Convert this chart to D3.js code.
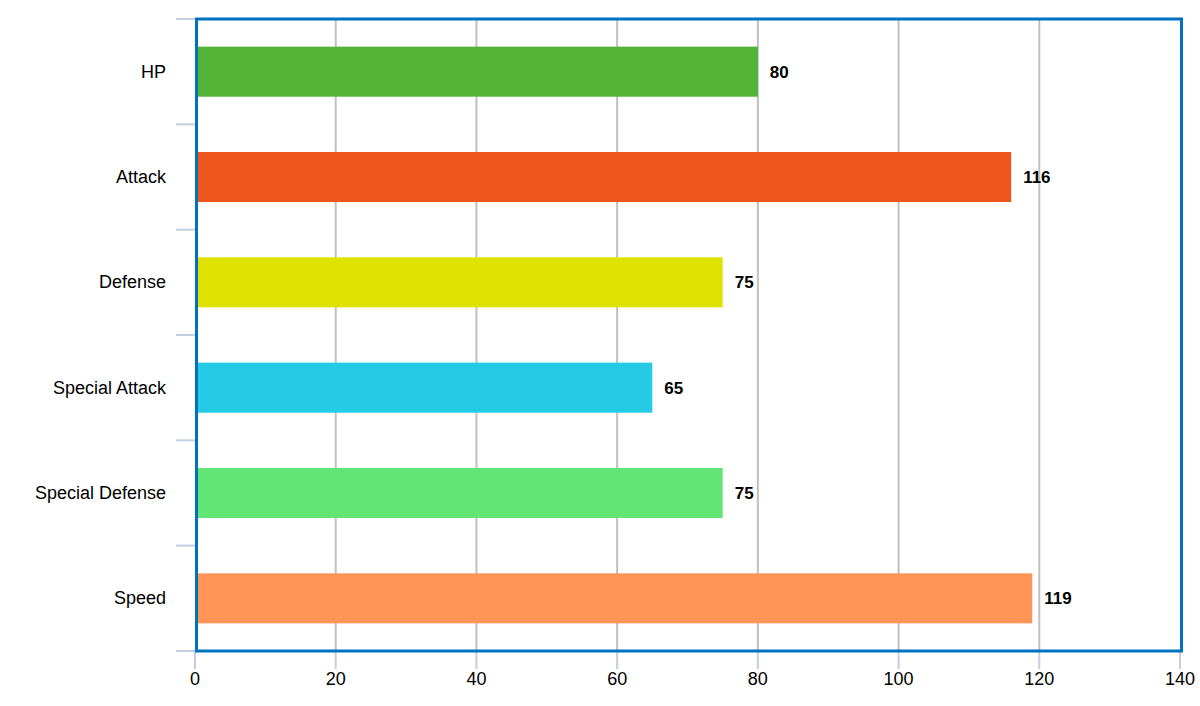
<!DOCTYPE html><html><head><meta charset="utf-8">
<script src="https://cdn.jsdelivr.net/npm/d3@7"></script>
<style>body{margin:0;background:#fff}text{font-family:"Liberation Sans",Arial,sans-serif}</style></head><body>
<svg id="c" width="1200" height="706"></svg>
<script>
const categories=["HP","Attack","Defense","Special Attack","Special Defense","Speed"];
const values=[80,116,75,65,75,119];
const colors=["#52b336","#ec561c","#dfe200","#25cae5","#63e575","#ff9658"];
const xTicks=[0,20,40,60,80,100,120,140];
const svg=d3.select("#c");
const L=195,R=1180,T=19,B=651;
const x=d3.scaleLinear().domain([0,140]).range([L,R]);
const y=d3.scaleBand().domain(categories).range([T,B]).paddingInner(0.525).paddingOuter(0.2625);
// grid
svg.selectAll(".g").data(xTicks.slice(1,-1)).join("line").attr("x1",d=>x(d)).attr("x2",d=>x(d)).attr("y1",T).attr("y2",B).attr("stroke","#c0c0c0").attr("stroke-width",2);
// y ticks
const yb=[T].concat(categories.map((c,i)=>T+(B-T)/6*(i+1)));
svg.selectAll(".yt").data(yb).join("line").attr("x1",176).attr("x2",L).attr("y1",d=>d).attr("y2",d=>d).attr("stroke","#c0d0e0").attr("stroke-width",2);
// x axis
svg.append("line").attr("x1",176).attr("x2",R+2).attr("y1",B).attr("y2",B).attr("stroke","#c0d0e0").attr("stroke-width",2);
svg.selectAll(".xt").data(xTicks).join("line").attr("x1",d=>x(d)).attr("x2",d=>x(d)).attr("y1",B).attr("y2",B+18).attr("stroke","#c0d0e0").attr("stroke-width",2);
svg.selectAll(".xl").data(xTicks).join("text").attr("x",d=>x(d)).attr("y",B+34).attr("text-anchor","middle").attr("font-size",18).attr("fill","#000").text(d=>d);
// bars
svg.selectAll(".b").data(values).join("rect").attr("x",x(0)).attr("y",(d,i)=>y(categories[i])).attr("width",d=>x(d)-x(0)).attr("height",y.bandwidth()).attr("fill",(d,i)=>colors[i]);
svg.selectAll(".v").data(values).join("text").attr("x",d=>x(d)+12).attr("y",(d,i)=>y(categories[i])+y.bandwidth()/2+6).attr("font-size",17).attr("font-weight","bold").text(d=>d);
svg.selectAll(".c").data(categories).join("text").attr("x",166).attr("y",d=>y(d)+y.bandwidth()/2+6).attr("text-anchor","end").attr("font-size",18).text(d=>d);
// border
svg.append("rect").attr("x",L+1.5).attr("y",T).attr("width",R-L).attr("height",B-T).attr("fill","none").attr("stroke","#0070c0").attr("stroke-width",3);
</script></body></html>
